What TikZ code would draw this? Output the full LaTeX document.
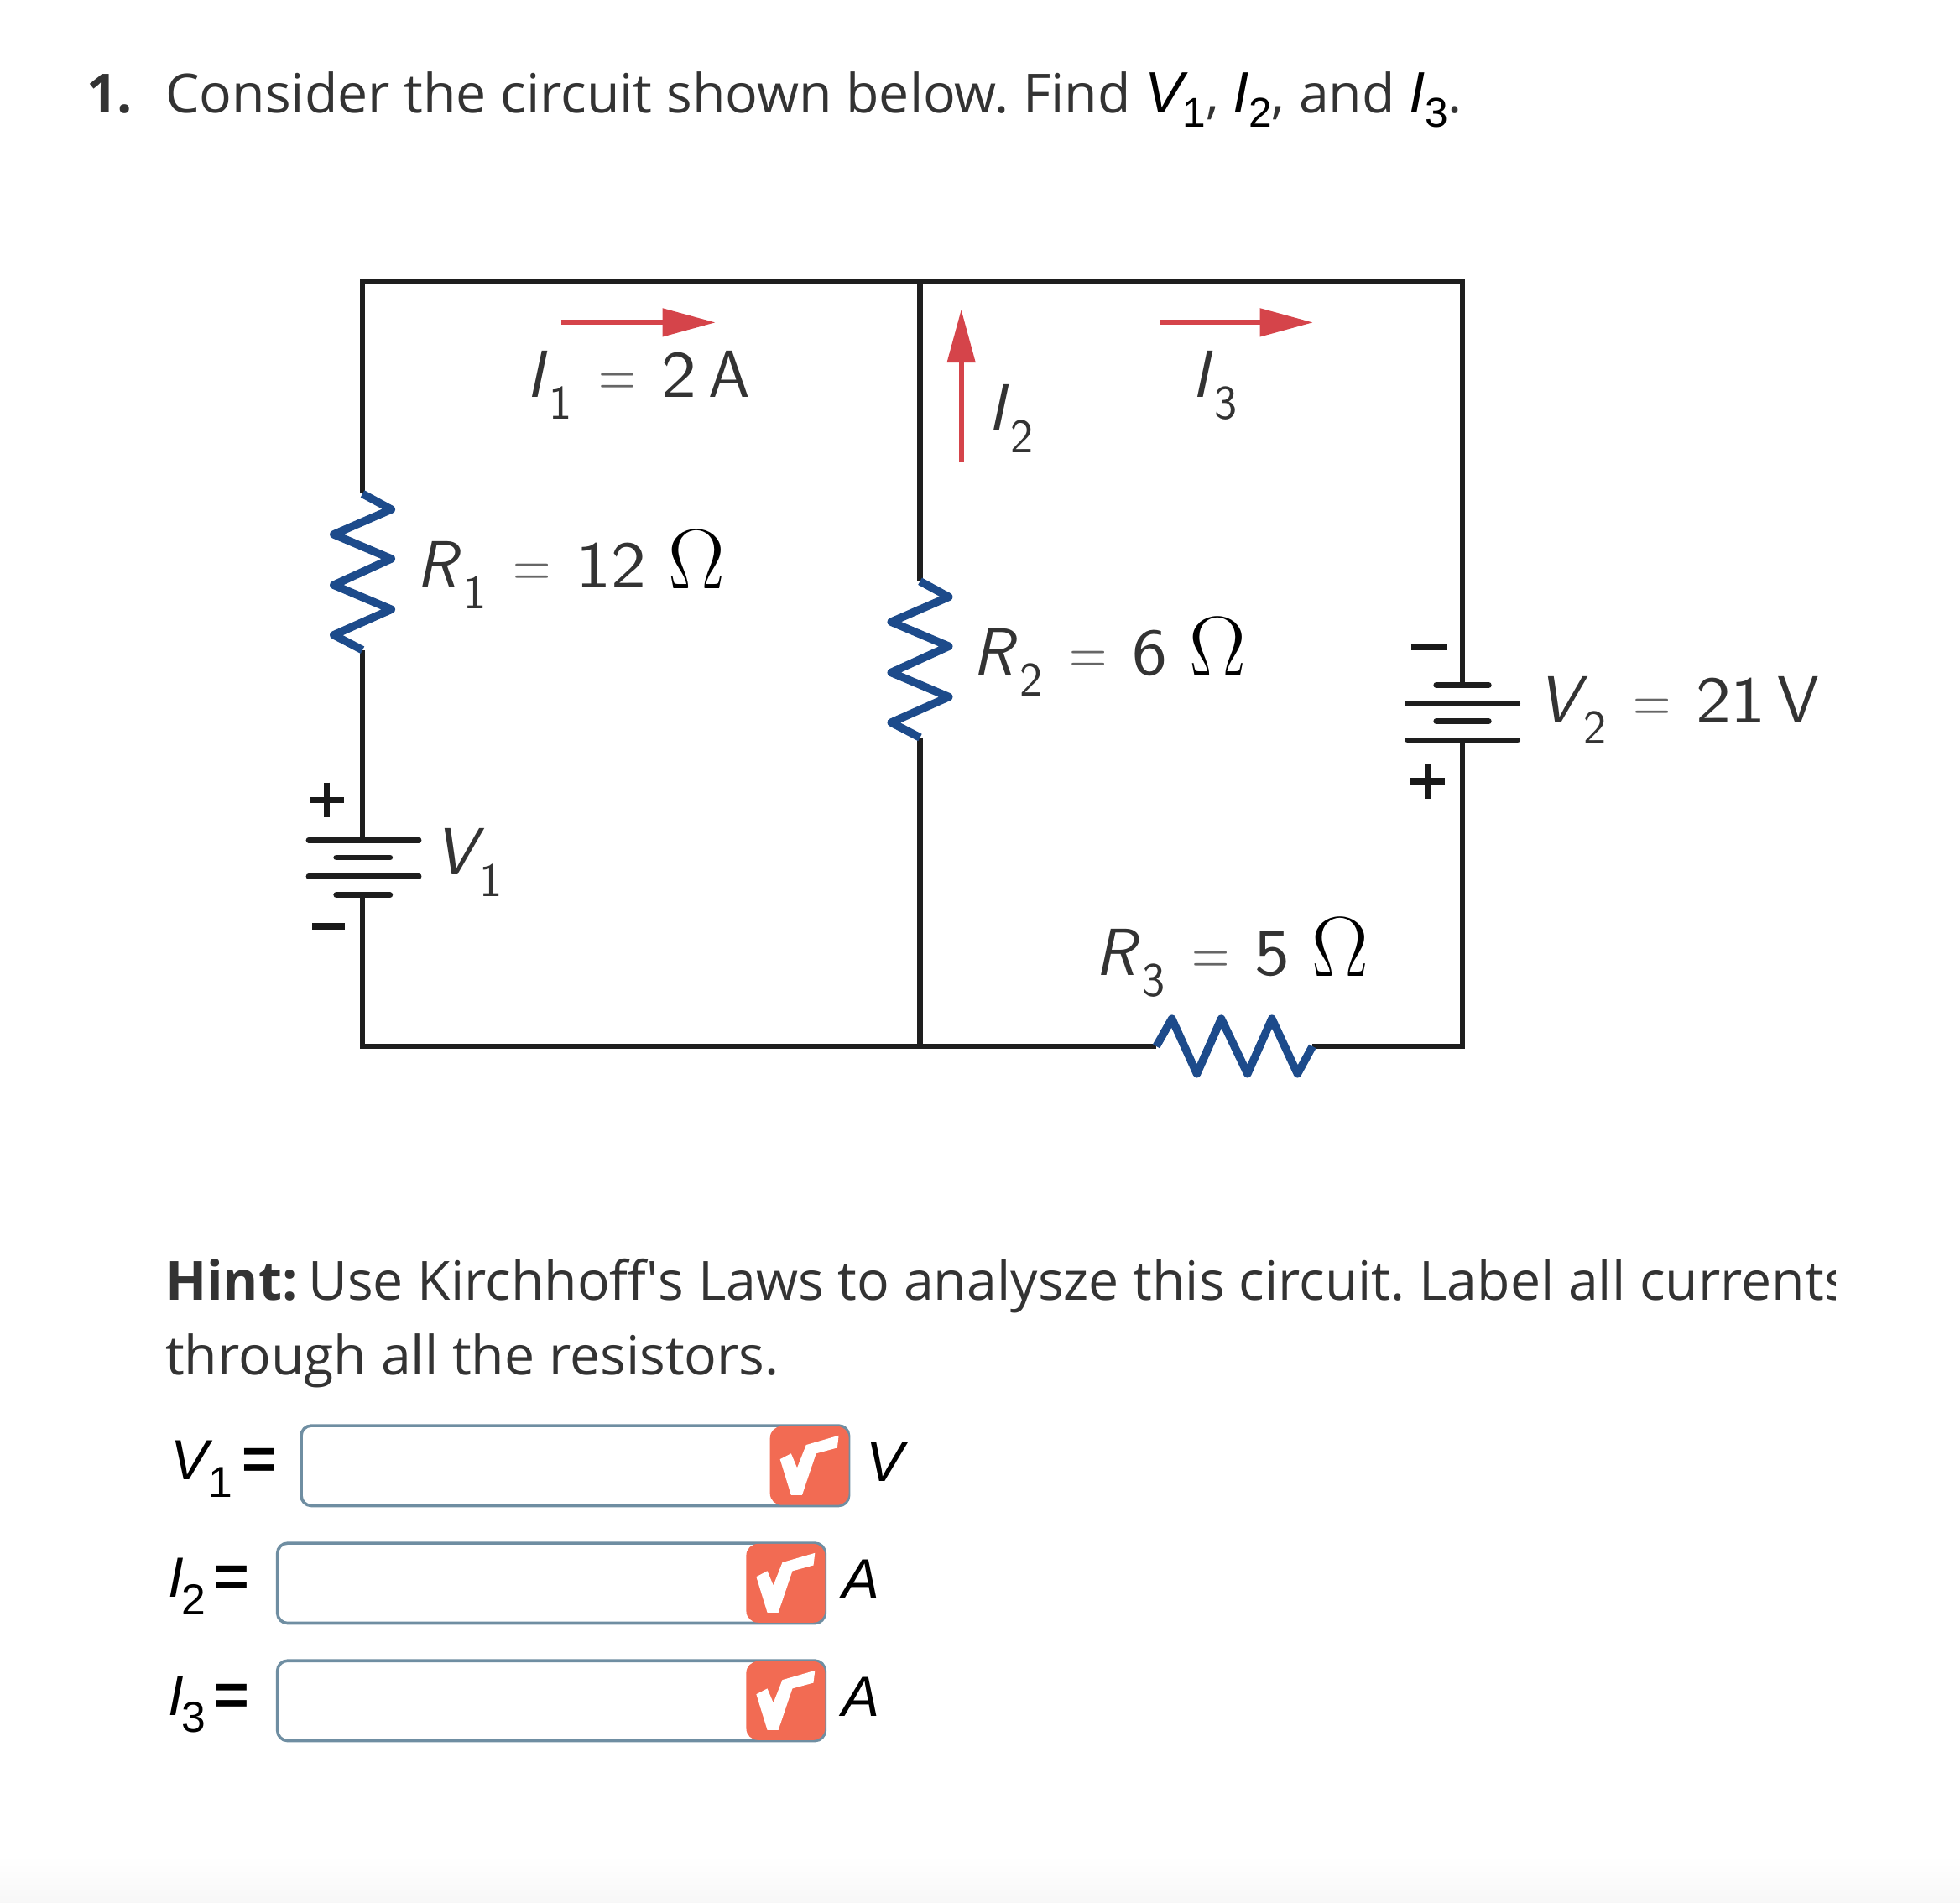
\documentclass[tikz,border=0pt]{standalone}
\usepackage{fontspec}
\setmainfont{Open Sans}
\newfontfamily\plainopen{Open Sans}
\newfontfamily\helv{Liberation Sans}
\definecolor{wirec}{HTML}{1E1E1E}
\definecolor{resc}{HTML}{1D4B8B}
\definecolor{arrc}{HTML}{D5444A}
\definecolor{txtc}{HTML}{333333}
\definecolor{boxc}{HTML}{6F8EA2}
\definecolor{btnc}{HTML}{F26B53}
\newcommand{\dsub}[1]{\raisebox{-0.32em}{\kern1pt\fontsize{29pt}{29pt}\selectfont\upshape #1}}
\newcommand{\vsub}[1]{\raisebox{-0.32em}{\kern-3pt\fontsize{29pt}{29pt}\selectfont\upshape #1}}
\newcommand{\tvar}[2]{{\helv\itshape\color{black}\fontsize{35pt}{35pt}\selectfont #1\kern-0.5pt\raisebox{-0.25em}{\upshape\fontsize{25pt}{25pt}\selectfont #2}}}
\newcommand{\fsub}[1]{\raisebox{-0.3em}{\fontsize{26pt}{26pt}\selectfont\upshape #1}}
\newcommand{\feq}{{\upshape\bfseries\fontsize{36pt}{36pt}\selectfont =}}
\newcommand{\deq}{\kern16pt{\color{txtc!75}\scalebox{0.78}[1]{=}}\kern15pt}
\newcommand{\num}[1]{\scalebox{1.12}[1]{#1}}
\newcommand{\ohm}{\kern13pt\raisebox{-0.5pt}{\color{black}\scalebox{2.05}{$\Omega$}}}
\newcommand{\sqmark}[2]{\begin{scope}[shift={(#1,#2)},x=0.30096pt,y=-0.1718pt]
  \fill[white] (20,115) -- (42,95) -- (54,145) -- (72,65) -- (137,32) -- (134,75) -- (92,95) -- (64,240) -- (42,240) -- cycle;
\end{scope}}
\tikzset{
  x=0.75pt,y=-0.75pt,
  wire/.style={draw=wirec,line width=3.4pt,line cap=butt,line join=miter},
  plate/.style={draw=wirec,line width=3.4pt,line cap=round},
  resistor/.style={draw=resc,line width=4.8pt,line join=round,line cap=butt},
  sign/.style={draw=black!90,line width=3.8pt},
  current/.style={draw=arrc,line width=3.1pt},
  head/.style={fill=arrc,draw=none},
  title/.style={anchor=base west,inner sep=0pt,text=txtc,font=\fontsize{32.4pt}{32.4pt}\selectfont},
  dlabel/.style={anchor=base west,inner sep=0pt,text=txtc,font=\sffamily\fontsize{40pt}{40pt}\selectfont},
  flabel/.style={anchor=base west,inner sep=0pt,text=black,font=\helv\itshape\fontsize{34pt}{34pt}\selectfont},
  inbox/.style={draw=boxc,line width=1.8pt,rounded corners=6pt,fill=white},
  btn/.style={fill=btnc,draw=none,rounded corners=7pt},
}
\begin{document}
\frenchspacing
\begin{tikzpicture}
\useasboundingbox (0,0) rectangle (1568,1522.3);
\fill[white] (0,0) rectangle (1568,1522.3);
\shade[top color=white,bottom color=black!3,draw=none] (0,1485) rectangle (1568,1522.3);

% title
\node[title,font=\bfseries\fontsize{32.4pt}{32.4pt}\selectfont] (num) at (69,90) {1.};
\node[title] (ttl) at (132,90) {Consider the circuit shown below. Find \tvar{V}{1}, \tvar{I}{2}, and \tvar{I}{3}.};

% junctions and circuit
\coordinate (tl) at (290,225);
\coordinate (tm) at (736,225);
\coordinate (tr) at (1170,225);
\coordinate (bl) at (290,837);
\coordinate (bm) at (736,837);
\coordinate (br) at (1170,837);
\coordinate (r1a) at (290,395);
\coordinate (r1b) at (290,520);
\coordinate (r2a) at (736,465);
\coordinate (r2b) at (736,590);
\coordinate (r3a) at (925,837);
\coordinate (r3b) at (1050,837);
\coordinate (b1a) at (290,672);
\coordinate (b1b) at (290,716);
\coordinate (b2a) at (1170,548);
\coordinate (b2b) at (1170,592);

\draw[wire] (r1a) -- (tl) -- (tr) -- (b2a);
\draw[wire] (b2b) -- (br) -- (r3b);
\draw[wire] (r3a) -- (bl) -- (b1b);
\draw[wire] (b1a) -- (r1b);
\draw[wire] (tm) -- (r2a);
\draw[wire] (r2b) -- (bm);

% resistors
\draw[resistor] (r1a) -- ++(23,12.5) -- ++(-46,20) -- ++(46,19.5) -- ++(-46,21) -- ++(46,19.5) -- ++(-46,20.5) -- (r1b);
\draw[resistor] (r2a) -- ++(23,12.5) -- ++(-46,20) -- ++(46,19.5) -- ++(-46,21) -- ++(46,19.5) -- ++(-46,20.5) -- (r2b);
\draw[resistor] (r3a) -- ++(12.5,-22) -- ++(20,44) -- ++(19.5,-44) -- ++(21,44) -- ++(19.5,-44) -- ++(20.5,44) -- (r3b);

% batteries
\draw[plate] (247,672) -- (335,672);
\draw[plate] (269,686) -- (312,686);
\draw[plate] (247,701) -- (335,701);
\draw[plate] (269,716) -- (312,716);
\draw[sign] (248,640) -- (275,640) (261.5,626) -- (261.5,654);
\draw[sign] (250,741) -- (276,741);

\draw[plate] (1149,548) -- (1191,548);
\draw[plate] (1126,563) -- (1214,563);
\draw[plate] (1149,577) -- (1191,577);
\draw[plate] (1126,592) -- (1214,592);
\draw[sign] (1129,518) -- (1157,518);
\draw[sign] (1128,625) -- (1156,625) (1142,611) -- (1142,639);

% current arrows
\coordinate (a1s) at (449,258); \coordinate (a1e) at (572,258);
\coordinate (a3s) at (928,258); \coordinate (a3e) at (1050,258);
\coordinate (a2s) at (769,370); \coordinate (a2e) at (769,248);
\draw[current] (a1s) -- ++(85,0);
\fill[head] (a1e) -- ++(-42,-11.5) -- ++(0,23) -- cycle;
\draw[current] (a3s) -- ++(85,0);
\fill[head] (a3e) -- ++(-42,-11.5) -- ++(0,23) -- cycle;
\draw[current] (a2s) -- ++(0,-85);
\fill[head] (a2e) -- ++(-11.5,42) -- ++(23,0) -- cycle;

% labels
\node[dlabel] (li1) at (421,318) {\textit{I}\dsub{1}\deq \num{2}\kern7pt A};
\node[dlabel] (li2) at (790,345) {\textit{I}\dsub{2}};
\node[dlabel] (li3) at (953,318) {\textit{I}\dsub{3}};
\node[dlabel] (lr1) at (333,470) {\textit{R}\dsub{1}\deq \num{12}\ohm};
\node[dlabel] (lr2) at (778,540) {\textit{R}\dsub{2}\deq \num{6}\ohm};
\node[dlabel] (lr3) at (876,780) {\textit{R}\dsub{3}\deq \num{5}\ohm};
\node[dlabel] (lv1) at (347,700) {\textit{V}\vsub{1}};
\node[dlabel] (lv2) at (1230,578) {\textit{V}\vsub{2}\deq \num{21}\kern7pt V};

% hint
\begin{scope}
\clip (120,990) rectangle (1468,1120);
\node[title] (hint1) at (132,1040) {\textbf{Hint:}\kern-2pt{} Use Kirchhoff{\plainopen '}s Laws to analysze this circuit. Label all currents};
\node[title] (hint2) at (132,1100) {through all the resistors.};
\end{scope}

% inputs
\draw[inbox] (241,1140.5) rectangle (679,1204.5);
\fill[btn] (616,1141) rectangle (679,1204);
\sqmark{616}{1141}
\draw[inbox] (222,1234.5) rectangle (660,1298.5);
\fill[btn] (597,1235) rectangle (660,1298);
\sqmark{597}{1235}
\draw[inbox] (222,1328.5) rectangle (660,1392.5);
\fill[btn] (597,1329) rectangle (660,1392);
\sqmark{597}{1329}

\node[flabel] (fv1) at (136,1184) {V\fsub{1}\kern6pt\feq};
\node[flabel] (fi2) at (134,1278) {I\kern-1pt\fsub{2}\kern5pt\feq};
\node[flabel] (fi3) at (134,1372) {I\kern-1pt\fsub{3}\kern5pt\feq};
\node[flabel] (uv) at (693,1185) {V};
\node[flabel] (ua2) at (673,1279) {A};
\node[flabel] (ua3) at (673,1373) {A};
\end{tikzpicture}
\end{document}
